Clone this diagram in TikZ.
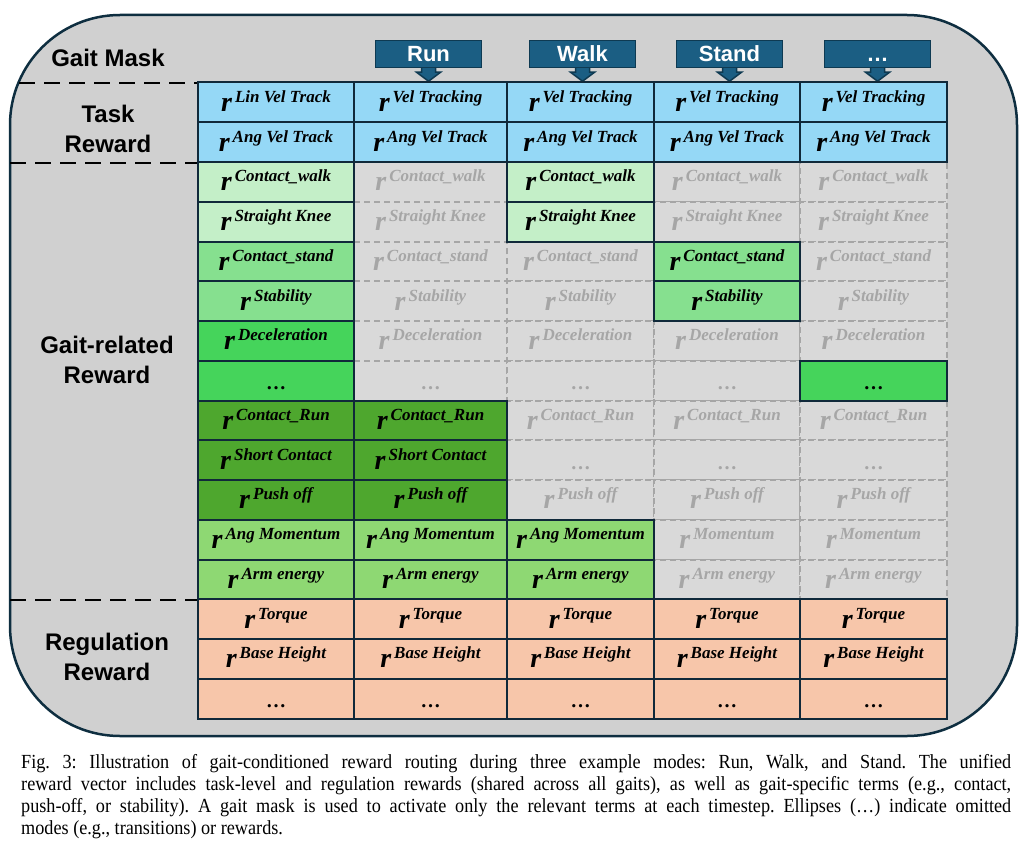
\documentclass[tikz,border=0pt]{standalone}
\usepackage{fontspec}
\setmainfont{Liberation Serif}
\setsansfont{Liberation Sans}
\newfontfamily\capfont[FakeStretch=0.91]{Liberation Serif}

\definecolor{outerfill}{HTML}{D0D0D0}
\definecolor{outerline}{HTML}{0E2E40}
\definecolor{offfill}{HTML}{D9D9D9}
\definecolor{offline}{HTML}{A6A6A6}
\definecolor{cellline}{HTML}{10293A}
\definecolor{maskblue}{HTML}{1B5E83}
\definecolor{maskline}{HTML}{0E3A52}
\definecolor{taskc}{HTML}{95D8F6}
\definecolor{walkc}{HTML}{C4EFC8}
\definecolor{standc}{HTML}{86E08F}
\definecolor{decelc}{HTML}{45D45B}
\definecolor{runc}{HTML}{4EA72E}
\definecolor{armc}{HTML}{8ED873}
\definecolor{regc}{HTML}{F7C6AA}

% reward term: big r with a raised name
\newcommand{\rt}[1]{{\fontsize{28}{28}\selectfont\bfseries\itshape r}\hspace{3pt}\raisebox{9pt}{\fontsize{17}{17}\selectfont\bfseries\itshape #1}}
\newcommand{\celldots}{{\fontsize{20}{20}\selectfont\bfseries\ldots}}

\begin{document}
\begin{tikzpicture}[x = 1pt, y = -1pt,
    cell/.style = {rectangle, minimum height = 39.75pt, inner sep = 0pt, line width = 2pt, text height = 19pt, text depth = 1pt},
    on/.style = {cell, fill = #1, draw = cellline, text = black},
    off/.style = {cell, fill = offfill, draw = offline, dash pattern = on 6pt off 4pt, text = offline},
    gait/.style = {fill = maskblue, draw = maskline, line width = 1.5pt, minimum width = 106pt, minimum height = 27pt, inner sep = 0pt, text height = 16pt, text depth = 0pt, text = white, font = \sffamily\bfseries\fontsize{22}{22}\selectfont},
    side/.style = {align = center, font = \sffamily\bfseries\fontsize{24}{30}\selectfont},
    sep/.style = {line width = 2.2pt, dash pattern = on 16pt off 9pt}]
    \useasboundingbox (0,0) rectangle (1031,851);
    \draw[fill = outerfill, draw = outerline, line width = 2.5pt, rounded corners = 110pt] (10,15) rectangle (1017,736);

    % section separators
    \draw[sep] (19,83) -- (947,83);
    \draw[sep] (10,163) -- (947,163);
    \draw[sep] (10,600) -- (947,600);

    \node[side] (maskhead) at (108,58) {Gait Mask};
    \node[side] (taskhead) at (108,129) {Task\\Reward};
    \node[side] (gaithead) at (107,360) {Gait-related\\Reward};
    \node[side] (reghead) at (107,657) {Regulation\\Reward};

    % gait mask buttons
    \foreach \n/\x/\t in {run/428.5/Run, walk/582.5/Walk, stand/729.5/Stand, more/877.5/{\ldots}} {
        \node[gait] (\n) at (\x,54) {\t};
        \filldraw[fill = maskblue, draw = maskline, line width = 1.5pt] ([xshift = -7pt]\n.south) -- ++(0,4) -- ++(-5,0) -- ++(12,9) -- ++(12,-9) -- ++(-5,0) -- ++(0,-4);
    }

    % reward grid: masked-out cells first, active cells on top
    \foreach \pass in {0,1}
    \foreach \r/\kind/\on/\off/\mask in {
        1/taskc/{\rt{Vel Tracking}}/{\rt{Vel Tracking}}/{1,1,1,1,1},
        2/taskc/{\rt{Ang Vel Track}}/{\rt{Ang Vel Track}}/{1,1,1,1,1},
        3/walkc/{\rt{Contact\_walk}}/{\rt{Contact\_walk}}/{1,0,1,0,0},
        4/walkc/{\rt{Straight Knee}}/{\rt{Straight Knee}}/{1,0,1,0,0},
        5/standc/{\rt{Contact\_stand}}/{\rt{Contact\_stand}}/{1,0,0,1,0},
        6/standc/{\rt{Stability}}/{\rt{Stability}}/{1,0,0,1,0},
        7/decelc/{\rt{Deceleration}}/{\rt{Deceleration}}/{1,0,0,0,0},
        8/decelc/{\celldots}/{\celldots}/{1,0,0,0,1},
        9/runc/{\rt{Contact\_Run}}/{\rt{Contact\_Run}}/{1,1,0,0,0},
        10/runc/{\rt{Short Contact}}/{\celldots}/{1,1,0,0,0},
        11/runc/{\rt{Push off}}/{\rt{Push off}}/{1,1,0,0,0},
        12/armc/{\rt{Ang Momentum}}/{\rt{Momentum}}/{1,1,1,0,0},
        13/armc/{\rt{Arm energy}}/{\rt{Arm energy}}/{1,1,1,0,0},
        14/regc/{\rt{Torque}}/{\rt{Torque}}/{1,1,1,1,1},
        15/regc/{\rt{Base Height}}/{\rt{Base Height}}/{1,1,1,1,1},
        16/regc/{\celldots}/{\celldots}/{1,1,1,1,1}}
    \foreach \c/\xa/\xb in {1/198/354, 2/354/507, 3/507/654, 4/654/800, 5/800/947} {
        \pgfmathtruncatemacro\bit{{\mask}[\c-1]}
        \ifnum\bit=\pass
            \def\txt{\on}
            \ifnum\r=1 \ifnum\c=1 \def\txt{\rt{Lin Vel Track}}\fi\fi
            \ifnum\bit=1
                \node[on = \kind, minimum width = {(\xb-\xa)*1pt}] (c\c-\r) at ({(\xa+\xb)/2},{82.5+(\r-0.5)*39.75}) {\txt};
            \else
                \node[off, minimum width = {(\xb-\xa)*1pt}] (c\c-\r) at ({(\xa+\xb)/2},{82.5+(\r-0.5)*39.75}) {\off};
            \fi
        \fi
    }

    \node[anchor = north west, text width = 990pt, align = justify, inner sep = 0pt, font = \capfont\fontsize{20}{22}\selectfont\frenchspacing] (caption) at (21,754)
        {Fig. 3: Illustration of gait-conditioned reward routing during three example modes: Run, Walk, and Stand. The unified\linebreak
        reward vector includes task-level and regulation rewards (shared across all gaits), as well as gait-specific terms (e.g., contact,\linebreak
        push-off, or stability). A gait mask is used to activate only the relevant terms at each timestep. Ellipses (\dots) indicate omitted\linebreak
        modes (e.g., transitions) or rewards.};
\end{tikzpicture}
\end{document}
